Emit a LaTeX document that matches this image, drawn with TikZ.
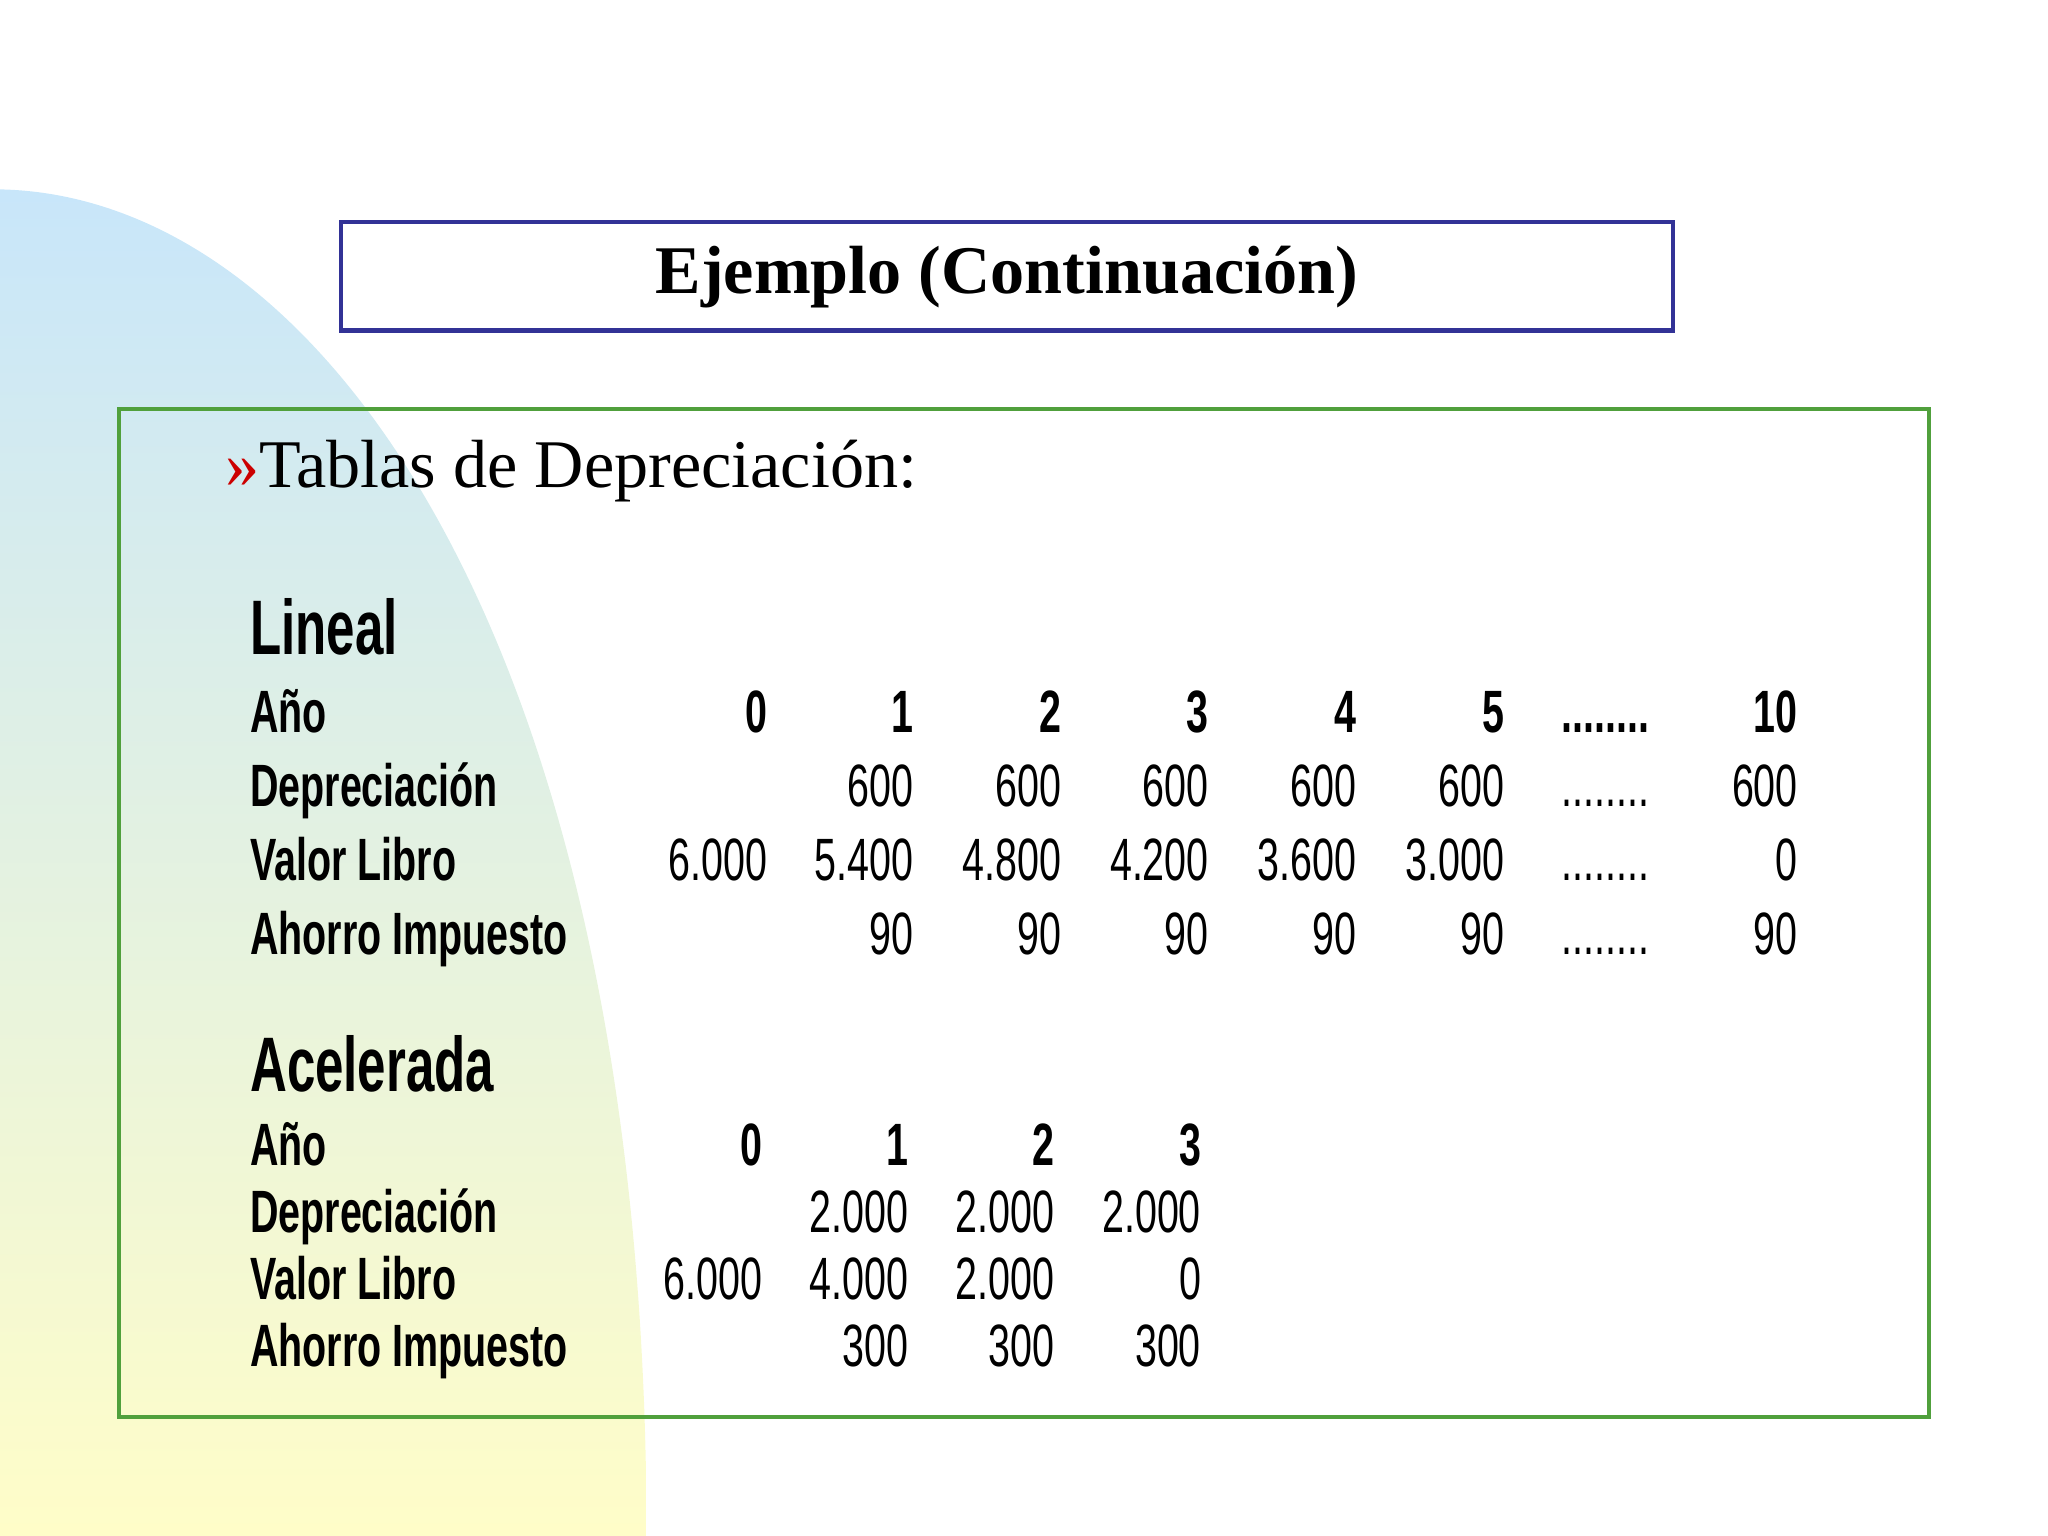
\documentclass[tikz,border=0pt]{standalone}
\usepackage{fontspec}
\setmainfont{Liberation Serif}
\newfontfamily\narrow[FakeStretch=0.66]{Liberation Sans}
\newcommand\dd{........}
\begin{document}
\begin{tikzpicture}[x=0.01306cm,y=-0.01306cm,
  lab/.style={anchor=base west,inner sep=0,font=\narrow\bfseries\fontsize{17}{19}\selectfont},
  num/.style={anchor=base east,inner sep=0,font=\narrow\fontsize{17}{19}\selectfont},
  hd/.style={anchor=base east,inner sep=0,font=\narrow\bfseries\fontsize{17}{19}\selectfont},
  sec/.style={anchor=base west,inner sep=0,font=\narrow\bfseries\fontsize{22}{24}\selectfont}]
\useasboundingbox (0,0) rectangle (1568,1176);
\shade[top color={rgb,255:red,200;green,230;blue,250}, bottom color={rgb,255:red,255;green,253;blue,200}]
 (0,145) .. controls (250,150) and (495,500) .. (495,1176) -- (0,1176) -- cycle;
\draw[draw={rgb,255:red,50;green,50;blue,150},line width=1.3pt] (261,170) rectangle (1281,253);
\node[font=\bfseries\fontsize{19.4}{22}\selectfont] (title) at (771,212) {Ejemplo (Continuación)};
\draw[draw={rgb,255:red,80;green,160;blue,60},line width=1.3pt] (91,313) rectangle (1477,1085);
\node[anchor=base west,inner sep=0,font=\fontsize{19.4}{22}\selectfont] (sub) at (172,373) {\textcolor{red!80!black}{»}Tablas de Depreciación:};
\node[sec] (l) at (191,501) {Lineal};
\foreach \t [count=\i] in {Año,Depreciación,Valor Libro,Ahorro Impuesto}
  \node[lab] (la\i) at (191,{561+56.5*(\i-1)}) {\t};
\foreach \v/\x in {0/588,1/700,2/813,3/926,4/1039,5/1152,\dd/1263,10/1377}
  \node[hd] at (\x,561) {\v};
\foreach \v/\x in {600/700,600/813,600/926,600/1039,600/1152,\dd/1263,600/1377}
  \node[num] at (\x,617.5) {\v};
\foreach \v/\x in {6.000/588,5.400/700,4.800/813,4.200/926,3.600/1039,3.000/1152,\dd/1263,0/1377}
  \node[num] at (\x,674) {\v};
\foreach \v/\x in {90/700,90/813,90/926,90/1039,90/1152,\dd/1263,90/1377}
  \node[num] at (\x,730.5) {\v};
\node[sec] (a) at (191,836) {Acelerada};
\foreach \t [count=\i] in {Año,Depreciación,Valor Libro,Ahorro Impuesto}
  \node[lab] (aa\i) at (191,{892+51.3*(\i-1)}) {\t};
\foreach \v/\x in {0/584,1/696,2/808,3/920} \node[hd] at (\x,892) {\v};
\foreach \v/\x in {2.000/696,2.000/808,2.000/920} \node[num] at (\x,943.3) {\v};
\foreach \v/\x in {6.000/584,4.000/696,2.000/808,0/920} \node[num] at (\x,994.6) {\v};
\foreach \v/\x in {300/696,300/808,300/920} \node[num] at (\x,1045.9) {\v};
\end{tikzpicture}
\end{document}
